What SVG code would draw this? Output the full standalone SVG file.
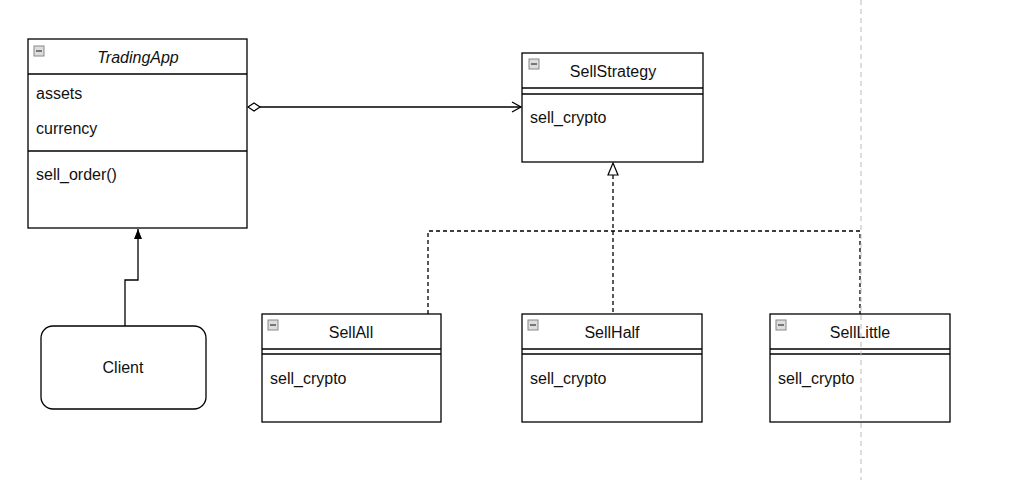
<svg xmlns="http://www.w3.org/2000/svg" width="1024" height="480" viewBox="0 0 1024 480">
<style>
.box{fill:#fff;stroke:#000;stroke-width:1.3}
.ln{stroke:#000;stroke-width:1.3;fill:none}
.t{font-family:"Liberation Sans",Arial,sans-serif;font-size:16px;fill:#111}
.h{text-anchor:middle}
.d{stroke:#000;stroke-width:1.3;fill:none;stroke-dasharray:4 3}
</style>
<defs>
<g id="minus"><rect width="10" height="10" fill="#ddd" stroke="#888" stroke-width="1"/><line x1="2" y1="5" x2="8" y2="5" stroke="#555" stroke-width="1.5"/></g>
<marker id="open" markerWidth="12" markerHeight="12" refX="10" refY="6" orient="auto" markerUnits="userSpaceOnUse"><path d="M1,1 L10,6 L1,11" fill="none" stroke="#000" stroke-width="1.3"/></marker>
<marker id="dia" markerWidth="16" markerHeight="10" refX="1" refY="5" orient="auto" markerUnits="userSpaceOnUse"><path d="M1,5 L7,1 L13,5 L7,9Z" fill="#fff" stroke="#000" stroke-width="1.2"/></marker>
<marker id="fill" markerWidth="12" markerHeight="12" refX="6" refY="1" orient="0" markerUnits="userSpaceOnUse"><path d="M6,1 L10,11 L2,11Z" fill="#000"/></marker>
</defs>
<rect width="1024" height="480" fill="#fff"/>
<g id="connectors">
<line x1="248" y1="107" x2="521" y2="107" class="ln" marker-start="url(#dia)" marker-end="url(#open)"/>
<path d="M613,175 V231" class="d"/>
<path d="M613,163 L618,175 L608,175Z" fill="#fff" stroke="#000" stroke-width="1.2"/>
<path d="M428,314 V231 H860 V314 M613,231 V314" class="d"/>
<path d="M125,326 V280 H138 V229" class="ln" marker-end="url(#fill)"/>
</g>
<g id="TradingApp">
<rect x="28" y="39" width="219" height="189" class="box"/>
<line x1="28" y1="74" x2="247" y2="74" class="ln"/>
<line x1="28" y1="151" x2="247" y2="151" class="ln"/>
<use href="#minus" x="34" y="46"/>
<text x="138" y="63" class="t h" font-style="italic">TradingApp</text>
<text x="36" y="99" class="t">assets</text>
<text x="36" y="134" class="t">currency</text>
<text x="36" y="180" class="t">sell_order()</text>
</g>
<g id="SellStrategy">
<rect x="522" y="53" width="181" height="109" class="box"/>
<line x1="522" y1="88" x2="703" y2="88" class="ln"/>
<line x1="522" y1="94" x2="703" y2="94" class="ln"/>
<use href="#minus" x="529" y="59"/>
<text x="613" y="77" class="t h">SellStrategy</text>
<text x="530" y="123" class="t">sell_crypto</text>
</g>
<g id="SellAll">
<rect x="262" y="314" width="179" height="108" class="box"/>
<line x1="262" y1="349" x2="441" y2="349" class="ln"/>
<line x1="262" y1="354" x2="441" y2="354" class="ln"/>
<use href="#minus" x="268" y="320"/>
<text x="351" y="338" class="t h">SellAll</text>
<text x="270" y="384" class="t">sell_crypto</text>
</g>
<g id="SellHalf">
<rect x="522" y="314" width="180" height="108" class="box"/>
<line x1="522" y1="349" x2="702" y2="349" class="ln"/>
<line x1="522" y1="354" x2="702" y2="354" class="ln"/>
<use href="#minus" x="528" y="320"/>
<text x="612" y="338" class="t h">SellHalf</text>
<text x="530" y="384" class="t">sell_crypto</text>
</g>
<g id="SellLittle">
<rect x="770" y="314" width="180" height="108" class="box"/>
<line x1="770" y1="349" x2="950" y2="349" class="ln"/>
<line x1="770" y1="354" x2="950" y2="354" class="ln"/>
<use href="#minus" x="776" y="320"/>
<text x="860" y="338" class="t h">SellLittle</text>
<text x="778" y="384" class="t">sell_crypto</text>
</g>
<g id="Client">
<rect x="41" y="326" width="165" height="83" rx="12" class="box"/>
<text x="123" y="373" class="t h">Client</text>
</g>
<line x1="861" y1="0" x2="861" y2="480" stroke="#bbb" stroke-width="1" stroke-dasharray="5 4"/>
</svg>
